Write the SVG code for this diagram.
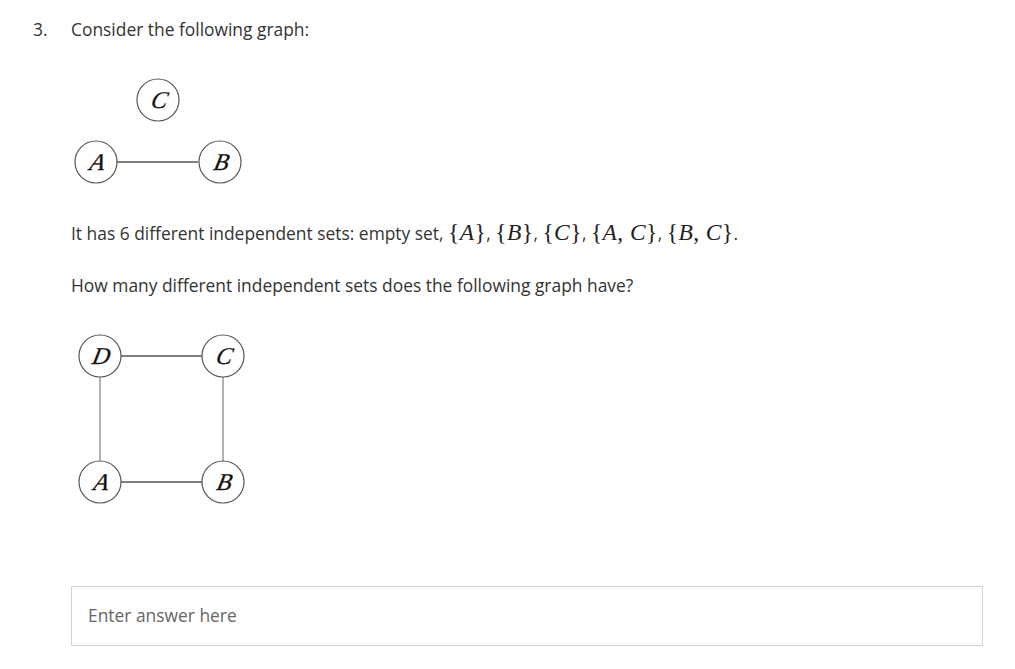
<svg xmlns="http://www.w3.org/2000/svg" width="1015" height="669" viewBox="0 0 1015 669">
<style>
.t{font-family:"Open Sans","Liberation Sans",sans-serif;font-size:17.4px;fill:#333}
.m{font-family:"Liberation Serif","DejaVu Serif",serif;font-size:23.5px;fill:#222;letter-spacing:0.4px}
.mi{font-style:italic}
.n{fill:#fff;stroke:#555;stroke-width:1.2}
.nl{font-family:"Liberation Serif","DejaVu Serif",serif;font-style:italic;font-size:24px;fill:#111;stroke:#111;stroke-width:0.3;text-anchor:middle}
.e{stroke:#555;stroke-width:1.3}
.ev{stroke:#999;stroke-width:1.5}
</style>
<rect width="1015" height="669" fill="#fff"/>
<text class="t" x="33" y="36">3.</text>
<text class="t" x="71" y="36">Consider the following graph:</text>
<g id="connectors1">
<line class="e" x1="117" y1="162" x2="198" y2="162"/>
</g>
<g id="g1C"><circle class="n" cx="158" cy="100" r="21"/><text class="nl" transform="translate(158,108) skewX(-12)">C</text></g>
<g id="g1A"><circle class="n" cx="96" cy="162" r="21"/><text class="nl" transform="translate(96,170) skewX(-12)">A</text></g>
<g id="g1B"><circle class="n" cx="220" cy="162" r="21"/><text class="nl" transform="translate(220,170) skewX(-12)">B</text></g>
<text x="71" y="240"><tspan class="t">It has 6 different independent sets: empty set, </tspan><tspan class="m">{<tspan class="mi">A</tspan>}</tspan><tspan class="t">, </tspan><tspan class="m">{<tspan class="mi">B</tspan>}</tspan><tspan class="t">, </tspan><tspan class="m">{<tspan class="mi">C</tspan>}</tspan><tspan class="t">, </tspan><tspan class="m">{<tspan class="mi">A</tspan>, <tspan class="mi">C</tspan>}</tspan><tspan class="t">, </tspan><tspan class="m">{<tspan class="mi">B</tspan>, <tspan class="mi">C</tspan>}</tspan><tspan class="t">.</tspan></text>
<text class="t" x="71" y="292">How many different independent sets does the following graph have?</text>
<g id="connectors2">
<line class="e" x1="121" y1="356" x2="202" y2="356"/>
<line class="e" x1="121" y1="482" x2="202" y2="482"/>
<line class="ev" x1="100" y1="377" x2="100" y2="461"/>
<line class="ev" x1="223" y1="377" x2="223" y2="461"/>
</g>
<g id="g2D"><circle class="n" cx="100" cy="356" r="21"/><text class="nl" transform="translate(100,364) skewX(-12)">D</text></g>
<g id="g2C"><circle class="n" cx="223" cy="356" r="21"/><text class="nl" transform="translate(223,364) skewX(-12)">C</text></g>
<g id="g2A"><circle class="n" cx="100" cy="482" r="21"/><text class="nl" transform="translate(100,490) skewX(-12)">A</text></g>
<g id="g2B"><circle class="n" cx="223" cy="482" r="21"/><text class="nl" transform="translate(223,490) skewX(-12)">B</text></g>
<g id="answer">
<rect x="71.5" y="586.5" width="911" height="59" fill="#fff" stroke="#cfd4da"/>
<text x="88" y="622" style="font-family:'Open Sans','Liberation Sans',sans-serif;font-size:17.4px;fill:#666">Enter answer here</text>
</g>
</svg>
